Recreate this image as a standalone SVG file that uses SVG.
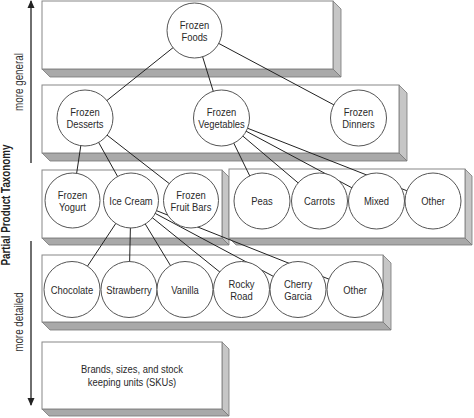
<svg xmlns="http://www.w3.org/2000/svg" width="474" height="418" viewBox="0 0 474 418">
<defs>
<style>
.front{fill:#fff;stroke:#888;stroke-width:1}
.side{fill:#c6c6c6;stroke:#777;stroke-width:0.8}
.bot{fill:#a9a9a9;stroke:#777;stroke-width:0.8}
.node circle{fill:#fff;stroke:#555;stroke-width:1}
.lbl{font-family:"Liberation Sans",Arial,sans-serif;font-size:11.5px;fill:#2a2a2a;text-anchor:middle}
.edge line{stroke:#222;stroke-width:1}
.axis{stroke:#333;stroke-width:1.4}
.ax{font-family:"Liberation Sans",Arial,sans-serif;font-size:12px;fill:#333;text-anchor:middle}
.title{font-family:"Liberation Sans",Arial,sans-serif;font-size:12px;font-weight:bold;fill:#222;text-anchor:middle}
</style>
<marker id="ah" viewBox="0 0 8 10" refX="7" refY="5" markerWidth="8" markerHeight="10" markerUnits="userSpaceOnUse" orient="auto">
<path d="M0,1.5 L8,5 L0,8.5 Z" fill="#222"/>
</marker>
</defs>

<g id="levels">
<g id="level1">
<polygon class="side" points="333,1 341,9 341,77 333,69"/>
<polygon class="bot" points="42,69 333,69 341,77 50,77"/>
<rect class="front" x="42" y="1" width="291" height="68"/>
</g>
<g id="level2">
<polygon class="side" points="399,85 407,93 407,161 399,153"/>
<polygon class="bot" points="42,153 399,153 407,161 50,161"/>
<rect class="front" x="42" y="85" width="357" height="68"/>
</g>
<g id="level3a">
<polygon class="side" points="222,170 229,177 229,245 222,238"/>
<polygon class="bot" points="42,238 222,238 229,245 49,245"/>
<rect class="front" x="42" y="170" width="180" height="68"/>
</g>
<g id="level3b">
<polygon class="side" points="465,169 472,176 472,245 465,238"/>
<polygon class="bot" points="229,238 465,238 472,245 236,245"/>
<rect class="front" x="229" y="169" width="236" height="69"/>
</g>
<g id="level4">
<polygon class="side" points="383,255 391,263 391,330 383,322"/>
<polygon class="bot" points="42,322 383,322 391,330 50,330"/>
<rect class="front" x="42" y="255" width="341" height="67"/>
</g>
<g id="level5">
<polygon class="side" points="222,342 229,349 229,416 222,409"/>
<polygon class="bot" points="42,409 222,409 229,416 49,416"/>
<rect class="front" x="42" y="342" width="180" height="67"/>
<text class="lbl" transform="translate(132,373) scale(0.82,1)">Brands, sizes, and stock</text>
<text class="lbl" transform="translate(132,386) scale(0.82,1)">keeping units (SKUs)</text>
</g>
</g>

<g id="axis">
<line class="axis" x1="31" y1="163" x2="31" y2="1" marker-end="url(#ah)"/>
<line class="axis" x1="31" y1="241" x2="31" y2="405" marker-end="url(#ah)"/>
<text class="ax" transform="translate(23,82) rotate(-90) scale(0.82,1)">more general</text>
<text class="ax" transform="translate(23,322) rotate(-90) scale(0.82,1)">more detailed</text>
<text class="title" transform="translate(10,205) rotate(-90) scale(0.82,1)">Partial Product Taxonomy</text>
</g>

<g id="connectors" class="edge">
<line x1="194.5" y1="30.5" x2="85" y2="118"/>
<line x1="194.5" y1="30.5" x2="221.5" y2="118"/>
<line x1="194.5" y1="30.5" x2="358.5" y2="118"/>
<line x1="85" y1="118" x2="72.5" y2="200.5"/>
<line x1="85" y1="118" x2="131" y2="200.5"/>
<line x1="85" y1="118" x2="191" y2="200.5"/>
<line x1="221.5" y1="118" x2="262" y2="201"/>
<line x1="221.5" y1="118" x2="319.5" y2="201"/>
<line x1="221.5" y1="118" x2="376.5" y2="201"/>
<line x1="221.5" y1="118" x2="433" y2="201"/>
<line x1="131" y1="200.5" x2="72" y2="289.5"/>
<line x1="131" y1="200.5" x2="129" y2="289.5"/>
<line x1="131" y1="200.5" x2="185" y2="289.5"/>
<line x1="131" y1="200.5" x2="241.5" y2="289.5"/>
<line x1="131" y1="200.5" x2="298" y2="289.5"/>
<line x1="131" y1="200.5" x2="355" y2="289.5"/>
</g>

<g id="n-frozen-foods" class="node"><circle cx="194.5" cy="30.5" r="27.5"/><text class="lbl" transform="translate(194.5,28.5) scale(0.82,1)">Frozen</text><text class="lbl" transform="translate(194.5,40.5) scale(0.82,1)">Foods</text></g>
<g id="n-frozen-desserts" class="node"><circle cx="85" cy="118" r="28"/><text class="lbl" transform="translate(85,116) scale(0.82,1)">Frozen</text><text class="lbl" transform="translate(85,128) scale(0.82,1)">Desserts</text></g>
<g id="n-frozen-vegetables" class="node"><circle cx="221.5" cy="118" r="28"/><text class="lbl" transform="translate(221.5,116) scale(0.82,1)">Frozen</text><text class="lbl" transform="translate(221.5,128) scale(0.82,1)">Vegetables</text></g>
<g id="n-frozen-dinners" class="node"><circle cx="358.5" cy="118" r="28"/><text class="lbl" transform="translate(358.5,116) scale(0.82,1)">Frozen</text><text class="lbl" transform="translate(358.5,128) scale(0.82,1)">Dinners</text></g>

<g id="n-frozen-yogurt" class="node"><circle cx="72.5" cy="200.5" r="27.5"/><text class="lbl" transform="translate(72.5,198.5) scale(0.82,1)">Frozen</text><text class="lbl" transform="translate(72.5,210.5) scale(0.82,1)">Yogurt</text></g>
<g id="n-ice-cream" class="node"><circle cx="131" cy="200.5" r="27.5"/><text class="lbl" transform="translate(131,204.5) scale(0.82,1)">Ice Cream</text></g>
<g id="n-frozen-fruit-bars" class="node"><circle cx="191" cy="200.5" r="27.5"/><text class="lbl" transform="translate(191,198.5) scale(0.82,1)">Frozen</text><text class="lbl" transform="translate(191,210.5) scale(0.82,1)">Fruit Bars</text></g>

<g id="n-peas" class="node"><circle cx="262" cy="201" r="28"/><text class="lbl" transform="translate(262,205) scale(0.82,1)">Peas</text></g>
<g id="n-carrots" class="node"><circle cx="319.5" cy="201" r="28"/><text class="lbl" transform="translate(319.5,205) scale(0.82,1)">Carrots</text></g>
<g id="n-mixed" class="node"><circle cx="376.5" cy="201" r="28"/><text class="lbl" transform="translate(376.5,205) scale(0.82,1)">Mixed</text></g>
<g id="n-other-veg" class="node"><circle cx="433" cy="201" r="28"/><text class="lbl" transform="translate(433,205) scale(0.82,1)">Other</text></g>

<g id="n-chocolate" class="node"><circle cx="72" cy="289.5" r="28"/><text class="lbl" transform="translate(72,293.5) scale(0.82,1)">Chocolate</text></g>
<g id="n-strawberry" class="node"><circle cx="129" cy="289.5" r="28"/><text class="lbl" transform="translate(129,293.5) scale(0.82,1)">Strawberry</text></g>
<g id="n-vanilla" class="node"><circle cx="185" cy="289.5" r="28"/><text class="lbl" transform="translate(185,293.5) scale(0.82,1)">Vanilla</text></g>
<g id="n-rocky-road" class="node"><circle cx="241.5" cy="289.5" r="28"/><text class="lbl" transform="translate(241.5,287.5) scale(0.82,1)">Rocky</text><text class="lbl" transform="translate(241.5,299.5) scale(0.82,1)">Road</text></g>
<g id="n-cherry-garcia" class="node"><circle cx="298" cy="289.5" r="28"/><text class="lbl" transform="translate(298,287.5) scale(0.82,1)">Cherry</text><text class="lbl" transform="translate(298,299.5) scale(0.82,1)">Garcia</text></g>
<g id="n-other-ic" class="node"><circle cx="355" cy="289.5" r="28"/><text class="lbl" transform="translate(355,293.5) scale(0.82,1)">Other</text></g>
</svg>
